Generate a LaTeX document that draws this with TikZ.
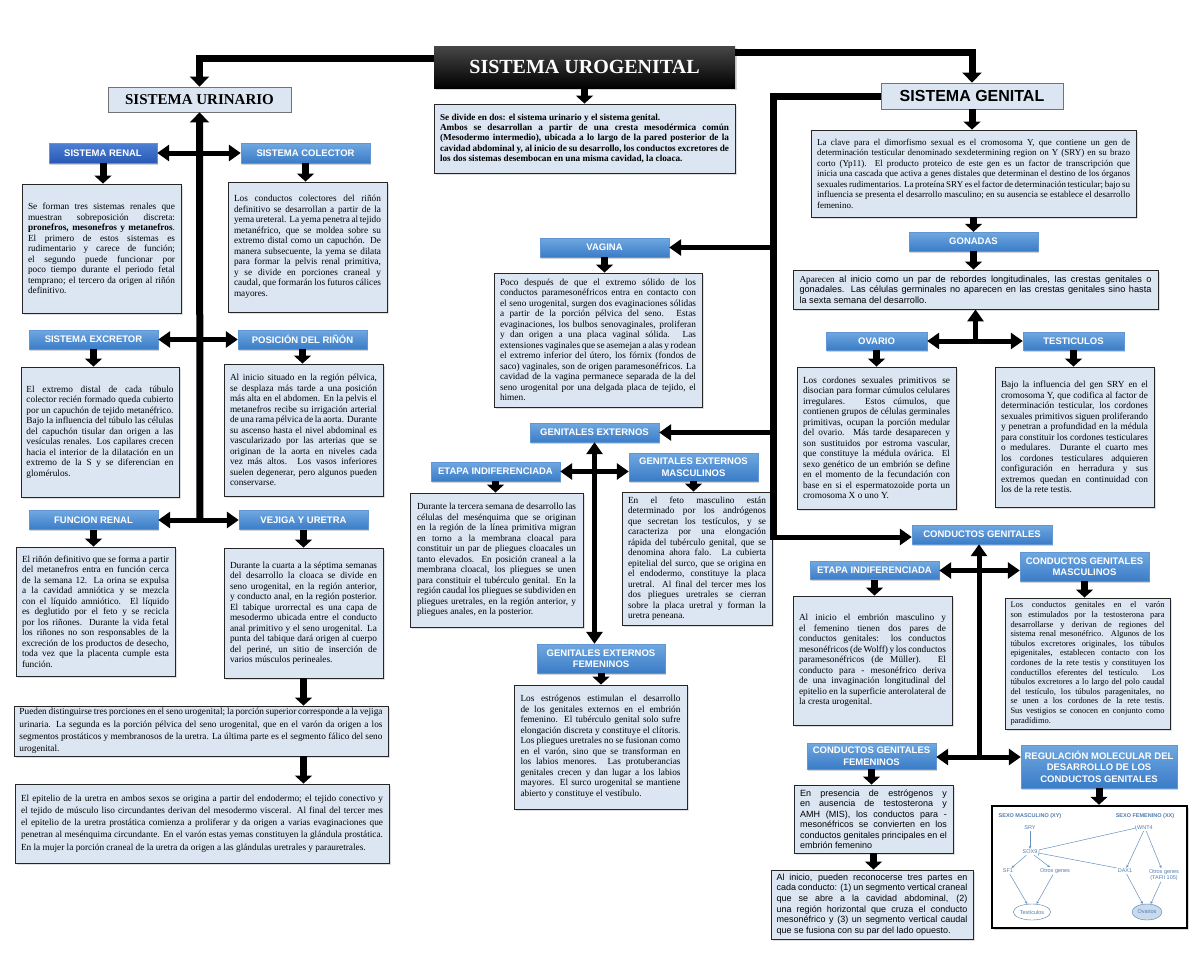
\documentclass[tikz,border=0pt]{standalone}
\usepackage{fontspec}
\setmainfont{Liberation Serif}
\setsansfont{Liberation Sans}
\usetikzlibrary{arrows.meta,shapes.geometric,shadows}
\definecolor{fondo}{RGB}{220,230,242}
\definecolor{azulA}{RGB}{112,168,224}
\definecolor{azulB}{RGB}{58,124,200}
\definecolor{azulRA}{RGB}{78,128,212}
\definecolor{azulRB}{RGB}{40,88,180}
\definecolor{azuldiag}{RGB}{80,125,175}
\definecolor{ovfondo}{RGB}{200,218,236}
\hyphenpenalty=10000
\tolerance=9999
\emergencystretch=10pt
\begin{document}
\begin{tikzpicture}[x=1pt, y=-1pt,
    titulo/.style={draw=azulB!80!white, top color=azulA, bottom color=azulB, text=white,
        font=\sffamily\bfseries\fontsize{9.5}{11.5}\selectfont, align=center, inner sep=0pt,
        minimum width=129pt, minimum height=19pt,
        drop shadow={opacity=0.35, shadow xshift=1pt, shadow yshift=-1.5pt}},
    caja/.style={draw=black!85, line width=0.9pt, fill=fondo, align=justify, inner sep=0pt,
        font=\fontsize{9.3}{10.5}\selectfont, minimum width=159pt, minimum height=130pt, text width=147pt,
        drop shadow={opacity=0.25, shadow xshift=1.5pt, shadow yshift=-1.5pt}},
    marco/.style={draw=black!55, line width=0.8pt, fill=fondo},
    conn/.style={line width=7pt, -{Triangle[width=19pt,length=10pt]}},
    linea/.style={line width=7pt},
    rama/.style={line width=5pt, -{Triangle[width=16pt,length=12pt]}},
    doble/.style={line width=5pt, {Triangle[width=16pt,length=12pt]}-{Triangle[width=16pt,length=12pt]}},
    baja/.style={line width=7pt, -{Triangle[width=17pt,length=8pt]}},
    gen/.style={text=azuldiag, font=\sffamily\fontsize{5.5}{6.2}\selectfont, inner sep=1pt, align=center},
    flechita/.style={draw=azuldiag!85, line width=0.5pt, -{Stealth[length=3pt,width=2.5pt]}},
    inhibe/.style={draw=azuldiag!85, line width=0.5pt, -{Bar[width=5pt]}}
]
    \useasboundingbox (0,0) rectangle (1200,967);
    \fill[white] (0,0) rectangle (1200,967);

    % Titulo
    \node[top color=black!72, bottom color=black, text=white, font=\bfseries\fontsize{20}{20}\selectfont,
        minimum width=301pt, minimum height=42pt,
        drop shadow={opacity=0.3, shadow xshift=1.5pt, shadow yshift=-1.5pt}] (uro) at (584.5,67) {SISTEMA UROGENITAL};
    \node[caja, font=\bfseries\fontsize{9.2}{10.4}\selectfont, minimum width=301pt, minimum height=69pt, text width=289pt] (desc) at (584.5,138.5)
        {Se divide en dos: el sistema urinario y el sistema genital.\\
        Ambos se desarrollan a partir de una cresta mesodérmica común (Mesodermo intermedio), ubicada a lo largo de la pared posterior de la cavidad abdominal y, al inicio de su desarrollo, los conductos excretores de los dos sistemas desembocan en una misma cavidad, la cloaca.};

    % Sistema urinario
    \node[marco, font=\bfseries\fontsize{15}{15}\selectfont, minimum width=183pt, minimum height=25pt] (urinario) at (199.5,99.5) {SISTEMA URINARIO};
    \node[titulo, top color=azulRA, bottom color=azulRB, minimum width=108pt, minimum height=20pt] (renal) at (103,153) {SISTEMA RENAL};
    \node[titulo, minimum height=20pt] (colector) at (305.5,153) {SISTEMA COLECTOR};
    \node[caja, minimum height=129pt] (renaltxt) at (101.5,248.5)
        {Se forman tres sistemas renales que muestran sobreposición discreta: \textbf{pronefros, mesonefros y metanefros}. El primero de estos sistemas es rudimentario y carece de función; el segundo puede funcionar por poco tiempo durante el periodo fetal temprano; el tercero da origen al riñón definitivo.};
    \node[caja] (colectortxt) at (307.5,247)
        {Los conductos colectores del riñón definitivo se desarrollan a partir de la yema ureteral. La yema penetra al tejido metanéfrico, que se moldea sobre su extremo distal como un capuchón. De manera subsecuente, la yema se dilata para formar la pelvis renal primitiva, y se divide en porciones craneal y caudal, que formarán los futuros cálices mayores.};
    \node[titulo] (excretor) at (93.5,339.5) {SISTEMA EXCRETOR};
    \node[titulo] (posicion) at (302.5,339.5) {POSICIÓN DEL RIÑÓN};
    \node[caja, minimum width=158pt] (excretortxt) at (100,432)
        {El extremo distal de cada túbulo colector recién formado queda cubierto por un capuchón de tejido metanéfrico. Bajo la influencia del túbulo las células del capuchón tisular dan origen a las vesículas renales. Los capilares crecen hacia el interior de la dilatación en un extremo de la S y se diferencian en glomérulos.};
    \node[caja, minimum height=132pt] (posiciontxt) at (303.5,430)
        {Al inicio situado en la región pélvica, se desplaza más tarde a una posición más alta en el abdomen. En la pelvis el metanefros recibe su irrigación arterial de una rama pélvica de la aorta. Durante su ascenso hasta el nivel abdominal es vascularizado por las arterias que se originan de la aorta en niveles cada vez más altos. Los vasos inferiores suelen degenerar, pero algunos pueden conservarse.};
    \node[titulo] (funcion) at (93.5,520) {FUNCION RENAL};
    \node[titulo] (vejiga) at (303.5,520) {VEJIGA Y URETRA};
    \node[caja, minimum height=129pt] (funciontxt) at (95.5,611.5)
        {El riñón definitivo que se forma a partir del metanefros entra en función cerca de la semana 12. La orina se expulsa a la cavidad amniótica y se mezcla con el líquido amniótico. El líquido es deglutido por el feto y se recicla por los riñones. Durante la vida fetal los riñones no son responsables de la excreción de los productos de desecho, toda vez que la placenta cumple esta función.};
    \node[caja] (vejigatxt) at (303.5,613)
        {Durante la cuarta a la séptima semanas del desarrollo la cloaca se divide en seno urogenital, en la región anterior, y conducto anal, en la región posterior. El tabique urorrectal es una capa de mesodermo ubicada entre el conducto anal primitivo y el seno urogenital. La punta del tabique dará origen al cuerpo del periné, un sitio de inserción de varios músculos perineales.};
    \node[caja, minimum width=374pt, minimum height=50pt, text width=363pt, font=\fontsize{9.3}{12.2}\selectfont] (pueden) at (201,731)
        {Pueden distinguirse tres porciones en el seno urogenital; la porción superior corresponde a la vejiga urinaria. La segunda es la porción pélvica del seno urogenital, que en el varón da origen a los segmentos prostáticos y membranosos de la uretra. La última parte es el segmento fálico del seno urogenital.};
    \node[caja, minimum width=374pt, minimum height=79pt, text width=362pt, font=\fontsize{9.3}{12.2}\selectfont] (epitelio) at (202,823.5)
        {El epitelio de la uretra en ambos sexos se origina a partir del endodermo; el tejido conectivo y el tejido de músculo liso circundantes derivan del mesodermo visceral. Al final del tercer mes el epitelio de la uretra prostática comienza a proliferar y da origen a varias evaginaciones que penetran al mesénquima circundante. En el varón estas yemas constituyen la glándula prostática. En la mujer la porción craneal de la uretra da origen a las glándulas uretrales y parauretrales.};

    % Vagina y genitales externos
    \node[titulo] (vagina) at (604.5,247.5) {VAGINA};
    \node[caja, minimum width=208pt, minimum height=134pt, text width=196pt] (vaginatxt) at (598,340)
        {Poco después de que el extremo sólido de los conductos paramesonéfricos entra en contacto con el seno urogenital, surgen dos evaginaciones sólidas a partir de la porción pélvica del seno. Estas evaginaciones, los bulbos senovaginales, proliferan y dan origen a una placa vaginal sólida. Las extensiones vaginales que se asemejan a alas y rodean el extremo inferior del útero, los fórnix (fondos de saco) vaginales, son de origen paramesonéfricos. La cavidad de la vagina permanece separada de la del seno urogenital por una delgada placa de tejido, el himen.};
    \node[titulo] (genext) at (594.5,432.5) {GENITALES EXTERNOS};
    \node[titulo] (etapa) at (495.5,471.5) {ETAPA INDIFERENCIADA};
    \node[titulo, minimum height=28pt] (genmasc) at (693.5,467) {GENITALES EXTERNOS\\MASCULINOS};
    \node[caja, minimum width=173pt, minimum height=134pt, text width=159pt] (etapatxt) at (496.5,560)
        {Durante la tercera semana de desarrollo las células del mesénquima que se originan en la región de la línea primitiva migran en torno a la membrana cloacal para constituir un par de pliegues cloacales un tanto elevados. En posición craneal a la membrana cloacal, los pliegues se unen para constituir el tubérculo genital. En la región caudal los pliegues se subdividen en pliegues uretrales, en la región anterior, y pliegues anales, en la posterior.};
    \node[caja, minimum width=150pt, minimum height=133pt, text width=138pt] (genmasctxt) at (697,558.5)
        {En el feto masculino están determinado por los andrógenos que secretan los testículos, y se caracteriza por una elongación rápida del tubérculo genital, que se denomina ahora falo. La cubierta epitelial del surco, que se origina en el endodermo, constituye la placa uretral. Al final del tercer mes los dos pliegues uretrales se cierran sobre la placa uretral y forman la uretra peneana.};
    \node[titulo, minimum width=128pt, minimum height=29pt] (genfem) at (601,658.5) {GENITALES EXTERNOS\\FEMENINOS};
    \node[caja, minimum width=173pt, minimum height=124pt, text width=160pt] (genfemtxt) at (600.5,747)
        {Los estrógenos estimulan el desarrollo de los genitales externos en el embrión femenino. El tubérculo genital solo sufre elongación discreta y constituye el clítoris. Los pliegues uretrales no se fusionan como en el varón, sino que se transforman en los labios menores. Las protuberancias genitales crecen y dan lugar a los labios mayores. El surco urogenital se mantiene abierto y constituye el vestíbulo.};

    % Sistema genital
    \node[marco, font=\sffamily\bfseries\fontsize{16}{16}\selectfont, minimum width=182pt, minimum height=26pt] (genital) at (972,96) {SISTEMA GENITAL};
    \node[caja, minimum width=325pt, minimum height=87pt, text width=313pt, font=\fontsize{9}{10.5}\selectfont] (clave) at (973.5,173.5)
        {La clave para el dimorfismo sexual es el cromosoma Y, que contiene un gen de determinación testicular denominado sexdetermining region on Y (SRY) en su brazo corto (Yp11). El producto proteico de este gen es un factor de transcripción que inicia una cascada que activa a genes distales que determinan el destino de los órganos sexuales rudimentarios. La proteína SRY es el factor de determinación testicular; bajo su influencia se presenta el desarrollo masculino; en su ausencia se establece el desarrollo femenino.};
    \node[titulo] (gonadas) at (973.5,241.5) {GONADAS};
    \node[caja, font=\sffamily\fontsize{9.2}{10.3}\selectfont, minimum width=365pt, minimum height=39pt, text width=352pt] (gonadastxt) at (975.5,289.5)
        {{\rmfamily Aparecen} al inicio como un par de rebordes longitudinales, las crestas genitales o gonadales. Las células germinales no aparecen en las crestas genitales sino hasta la sexta semana del desarrollo.};
    \node[titulo, minimum width=101pt, minimum height=18pt] (ovario) at (876.5,341) {OVARIO};
    \node[titulo, minimum width=101pt, minimum height=18pt] (testiculos) at (1073.5,341) {TESTICULOS};
    \node[caja, minimum height=142pt] (ovariotxt) at (876.5,438)
        {Los cordones sexuales primitivos se disocian para formar cúmulos celulares irregulares. Estos cúmulos, que contienen grupos de células germinales primitivas, ocupan la porción medular del ovario. Más tarde desaparecen y son sustituidos por estroma vascular, que constituye la médula ovárica. El sexo genético de un embrión se define en el momento de la fecundación con base en si el espermatozoide porta un cromosoma X o uno Y.};
    \node[caja, minimum height=140pt] (testtxt) at (1074.5,437)
        {Bajo la influencia del gen SRY en el cromosoma Y, que codifica al factor de determinación testicular, los cordones sexuales primitivos siguen proliferando y penetran a profundidad en la médula para constituir los cordones testiculares o medulares. Durante el cuarto mes los cordones testiculares adquieren configuración en herradura y sus extremos quedan en continuidad con los de la rete testis.};

    % Conductos genitales
    \node[titulo, minimum width=140pt] (conductos) at (982,534.5) {CONDUCTOS GENITALES};
    \node[titulo, minimum height=18pt] (etapa2) at (874.5,570.5) {ETAPA INDIFERENCIADA};
    \node[titulo, minimum height=29pt] (cgm) at (1084.5,566.5) {CONDUCTOS GENITALES\\MASCULINOS};
    \node[caja, minimum height=129pt] (etapa2txt) at (872.5,660.5)
        {Al inicio el embrión masculino y el femenino tienen dos pares de conductos genitales: los conductos mesonéfricos (de Wolff) y los conductos paramesonéfricos (de Müller). El conducto para - mesonéfrico deriva de una invaginación longitudinal del epitelio en la superficie anterolateral de la cresta urogenital.};
    \node[caja, minimum width=165pt, minimum height=131pt, text width=154pt, font=\fontsize{8.4}{9.6}\selectfont] (cgmtxt) at (1087.5,663.5)
        {Los conductos genitales en el varón son estimulados por la testosterona para desarrollarse y derivan de regiones del sistema renal mesonéfrico. Algunos de los túbulos excretores originales, los túbulos epigenitales, establecen contacto con los cordones de la rete testis y constituyen los conductillos eferentes del testículo. Los túbulos excretores a lo largo del polo caudal del testículo, los túbulos paragenitales, no se unen a los cordones de la rete testis. Sus vestigios se conocen en conjunto como paradídimo.};
    \node[titulo, minimum height=26pt] (cgf) at (871.5,756) {CONDUCTOS GENITALES\\FEMENINOS};
    \node[titulo, minimum width=156pt, minimum height=43pt] (reg) at (1099,766.5) {REGULACIÓN MOLECULAR DEL\\DESARROLLO DE LOS\\CONDUCTOS GENITALES};
    \node[caja, font=\sffamily\fontsize{9}{10.5}\selectfont, minimum height=68pt] (cgftxt) at (873.5,819)
        {En presencia de estrógenos y en ausencia de testosterona y AMH (MIS), los conductos para - mesonéfricos se convierten en los conductos genitales principales en el embrión femenino};
    \node[caja, font=\sffamily\fontsize{9}{10.6}\selectfont, minimum width=202pt, minimum height=69pt, text width=191pt] (alinicio) at (872,904.5)
        {Al inicio, pueden reconocerse tres partes en cada conducto: (1) un segmento vertical craneal que se abre a la cavidad abdominal, (2) una región horizontal que cruza el conducto mesonéfrico y (3) un segmento vertical caudal que se fusiona con su par del lado opuesto.};

    % Regulacion molecular
    \node[draw=black, line width=2.5pt, fill=white, minimum width=195pt, minimum height=122pt,
        drop shadow={opacity=0.3, shadow xshift=1.5pt, shadow yshift=-1.5pt}] (diagrama) at (1089.5,867) {};
    \node[gen, font=\sffamily\bfseries\fontsize{5.5}{6}\selectfont] (dmasc) at (1030,816) {SEXO MASCULINO (XY)};
    \node[gen, font=\sffamily\bfseries\fontsize{5.5}{6}\selectfont] (dfem) at (1145,816) {SEXO FEMENINO (XX)};
    \node[gen] (sry) at (1030,828) {SRY};
    \node[gen] (sox) at (1030,852) {SOX9};
    \node[gen] (sf) at (1008,871) {SF1};
    \node[gen] (otrosm) at (1055,871) {Otros genes};
    \node[gen, ellipse, draw=azuldiag, minimum width=32pt, minimum height=16pt] (testic) at (1032,912) {Testículos};
    \node[gen] (wnt) at (1145,828) {WNT4};
    \node[gen] (dax) at (1125,871) {DAX1};
    \node[gen] (otrosf) at (1164,875) {Otros genes\\(TAFII 105)};
    \node[gen, ellipse, draw=azuldiag, fill=ovfondo, minimum width=30pt, minimum height=16pt] (ovarios) at (1147,912) {Ovarios};
    \draw[flechita] (sry) -- (sox);
    \draw[flechita] (sox) -- (sf);
    \draw[flechita] (sox) -- (otrosm);
    \draw[flechita] (sf) -- (testic);
    \draw[flechita] (otrosm) -- (testic);
    \draw[flechita] (wnt) -- (dax);
    \draw[flechita] (wnt) -- (otrosf);
    \draw[flechita] (dax) -- (ovarios);
    \draw[flechita] (otrosf) -- (ovarios);
    \draw[inhibe] ([yshift=2pt]sox.east) -- (wnt.west);
    \draw[inhibe] (dax.north west) -- ([yshift=-1pt]sox.east);

    % Conexiones principales
    \draw[conn] ([yshift=9pt]uro.west) -| (urinario.north);
    \draw[conn] ([yshift=15pt]uro.east) -| (genital.north);
    \draw[baja] (uro.south) -- (desc.north);

    % Conexiones urinario
    \coordinate (ubase) at (200,520);
    \draw[conn] (ubase) -- (urinario.south);
    \draw[doble] (renal.east) -- (colector.west);
    \draw[doble] (excretor.east) -- (posicion.west);
    \draw[doble] (funcion.east) -- (vejiga.west);
    \draw[baja] (renal.south) -- (renal.south |- renaltxt.north);
    \draw[baja] (colector.south) -- (colector.south |- colectortxt.north);
    \draw[baja] (excretor.south) -- (excretor.south |- excretortxt.north);
    \draw[baja] (posicion.south) -- (posicion.south |- posiciontxt.north);
    \draw[baja] (funcion.south) -- (funcion.south |- funciontxt.north);
    \draw[baja] (vejiga.south) -- (vejiga.south |- vejigatxt.north);
    \draw[baja] (vejigatxt.south) -- (vejigatxt.south |- pueden.north);
    \draw[baja] (vejigatxt.south |- pueden.south) -- (vejigatxt.south |- epitelio.north);

    % Conexiones genital
    \coordinate (gbase) at (773,537);
    \draw[linea] (genital.west) -| (gbase);
    \draw[rama] ([xshift=-3.5pt]gbase) -- (gbase -| conductos.west);
    \draw[rama] (vagina.east -| gbase) -- (vagina.east);
    \draw[rama] (genext.east -| gbase) -- (genext.east);
    \draw[baja] (genital.south) -- (genital.south |- clave.north);
    \draw[baja] (gonadas.north |- clave.south) -- (gonadas.north);
    \draw[baja] (gonadas.south) -- (gonadas.south |- gonadastxt.north);
    \draw[rama] (ovario.east -| gonadastxt.south) -- (gonadastxt.south);
    \draw[doble] (ovario.east) -- (testiculos.west);
    \draw[baja] (ovario.south) -- (ovario.south |- ovariotxt.north);
    \draw[baja] (testiculos.south) -- (testiculos.south |- testtxt.north);
    \draw[baja] (vagina.south) -- (vagina.south |- vaginatxt.north);
    \draw[doble] (genext.south) -- (genext.south |- genfem.north);
    \draw[doble] (etapa.east) -- (etapa.east -| genmasc.west);
    \draw[baja] (etapa.south) -- (etapa.south |- etapatxt.north);
    \draw[baja] (genmasc.south) -- (genmasc.south |- genmasctxt.north);
    \draw[baja] (genfem.south) -- (genfem.south |- genfemtxt.north);

    % Conexiones conductos
    \coordinate (cbase) at (979,757);
    \draw[rama] (cbase) -- (cbase |- conductos.south);
    \draw[doble] (etapa2.east) -- (etapa2.east -| cgm.west);
    \draw[doble] (cbase -| cgf.east) -- (cbase -| reg.west);
    \draw[baja] (etapa2.south) -- (etapa2.south |- etapa2txt.north);
    \draw[baja] (cgm.south) -- (cgm.south |- cgmtxt.north);
    \draw[baja] (cgf.south) -- (cgf.south |- cgftxt.north);
    \draw[baja] (cgftxt.south) -- (cgftxt.south |- alinicio.north);
    \draw[baja] (reg.south) -- (reg.south |- diagrama.north);
\end{tikzpicture}
\end{document}
